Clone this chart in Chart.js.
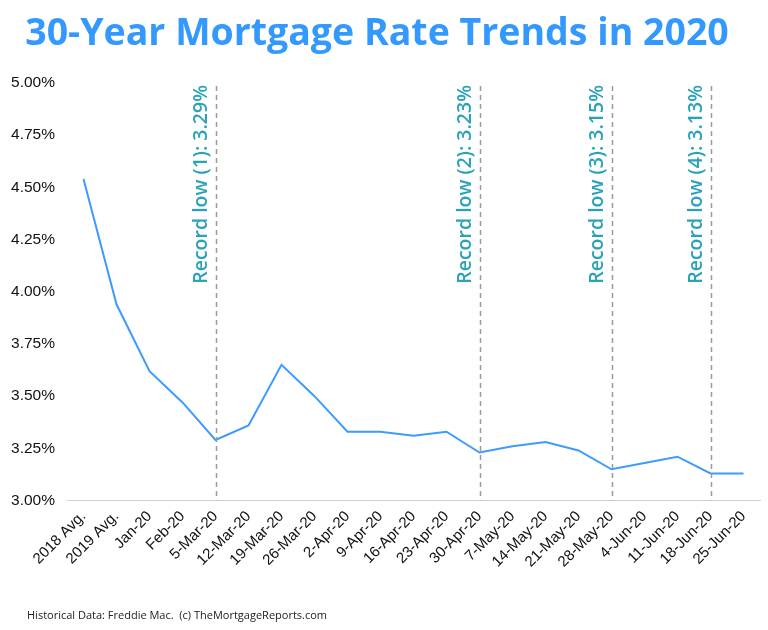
<!DOCTYPE html>
<html>
<head>
<meta charset="utf-8">
<title>30-Year Mortgage Rate Trends in 2020</title>
<script src="https://cdn.jsdelivr.net/npm/chart.js@4.4.1/dist/chart.umd.min.js"></script>
<style>
    html, body { margin: 0; padding: 0; background: #fff; }
    #wrap { width: 768px; height: 630px; position: relative; }
</style>
</head>
<body>
<div id="wrap"><canvas id="rateChart" width="768" height="630"></canvas></div>
<script>
// data
const weekLabels = ['2018 Avg.', '2019 Avg.', 'Jan-20', 'Feb-20', '5-Mar-20', '12-Mar-20', '19-Mar-20',
    '26-Mar-20', '2-Apr-20', '9-Apr-20', '16-Apr-20', '23-Apr-20', '30-Apr-20', '7-May-20',
    '14-May-20', '21-May-20', '28-May-20', '4-Jun-20', '11-Jun-20', '18-Jun-20', '25-Jun-20'];
const rateValues = [4.54, 3.94, 3.62, 3.47, 3.29, 3.36, 3.65, 3.50, 3.33, 3.33, 3.31, 3.33, 3.23,
    3.26, 3.28, 3.24, 3.15, 3.18, 3.21, 3.13, 3.13];
const recordLowLabels = ['5-Mar-20', '30-Apr-20', '28-May-20', '18-Jun-20'];
const recordLowTexts = ['Record low (1): 3.29%', 'Record low (2): 3.23%', 'Record low (3): 3.15%', 'Record low (4): 3.13%'];
const yTickValues = [3.00, 3.25, 3.50, 3.75, 4.00, 4.25, 4.50, 4.75, 5.00];

// ------------------------------------------------------------
// title, dashed record-low markers + footer note
// ------------------------------------------------------------
const recordLowPlugin = {
    id: 'recordLows',
    afterDatasetsDraw(chart) {
        const { ctx, chartArea, scales } = chart;
        ctx.save();

        // title (drawn by hand so it can sit a bit left of centre like the original)
        ctx.fillStyle = '#3399ff';
        ctx.font = 'bold 37.5px "Open Sans"';
        ctx.textAlign = 'center';
        ctx.textBaseline = 'alphabetic';
        ctx.fillText('30-Year Mortgage Rate Trends in 2020', 377, 45);

        recordLowLabels.forEach((lbl, i) => {
            const x = Math.round(scales.x.getPixelForValue(weekLabels.indexOf(lbl))) + 0.5;
            ctx.strokeStyle = '#9a9a9a';
            ctx.lineWidth = 1.5;
            ctx.setLineDash([5, 4]);
            ctx.beginPath();
            ctx.moveTo(x, chartArea.top + 3);
            ctx.lineTo(x, chartArea.bottom);
            ctx.stroke();

            ctx.setLineDash([]);
            ctx.translate(x - 15, chartArea.top + 2);
            ctx.rotate(-Math.PI / 2);
            ctx.fillStyle = '#2aa3b8';
            ctx.font = '600 19.5px "Open Sans"';
            ctx.textAlign = 'right';
            ctx.textBaseline = 'middle';
            ctx.fillText(recordLowTexts[i], 0, 0);
            ctx.setTransform(1, 0, 0, 1, 0, 0);
        });

        ctx.fillStyle = '#222';
        ctx.font = '11px "Open Sans"';
        ctx.textAlign = 'left';
        ctx.textBaseline = 'middle';
        ctx.fillText('Historical Data: Freddie Mac.  (c) TheMortgageReports.com', 27, 616);
        ctx.restore();
    }
};

new Chart(document.getElementById('rateChart').getContext('2d'), {
    type: 'line',
    data: {
        labels: weekLabels,
        datasets: [{
            label: '30-Year Rate',
            data: rateValues,
            borderColor: '#3d9bff',
            borderWidth: 2,
            pointRadius: 0,
            tension: 0,
            fill: false
        }]
    },
    options: {
        responsive: false,
        animation: false,
        layout: { padding: { left: 10, right: 8, top: 83, bottom: 52 } },
        scales: {
            x: {
                offset: true,
                grid: { display: false, drawTicks: false },
                border: { color: '#d0d0d0', width: 1 },
                afterFit(axis) { axis.paddingLeft = 0; axis.paddingRight = 0; },
                ticks: {
                    minRotation: 45,
                    maxRotation: 45,
                    autoSkip: false,
                    padding: 7,
                    color: '#111',
                    font: { family: '"Liberation Sans", Arial, sans-serif', size: 15 }
                }
            },
            y: {
                min: 3,
                max: 5,
                afterBuildTicks(axis) { axis.ticks = yTickValues.map(v => ({ value: v })); },
                afterFit(axis) { axis.width = 57; },
                grid: { display: false, drawTicks: false },
                border: { display: false },
                ticks: {
                    padding: 12,
                    color: '#111',
                    font: { family: '"Liberation Sans", Arial, sans-serif', size: 15.5 },
                    callback: v => v.toFixed(2) + '%'
                }
            }
        },
        plugins: {
            legend: { display: false },
            tooltip: { enabled: false },
            title: { display: false }
        }
    },
    plugins: [recordLowPlugin]
});
</script>
</body>
</html>
